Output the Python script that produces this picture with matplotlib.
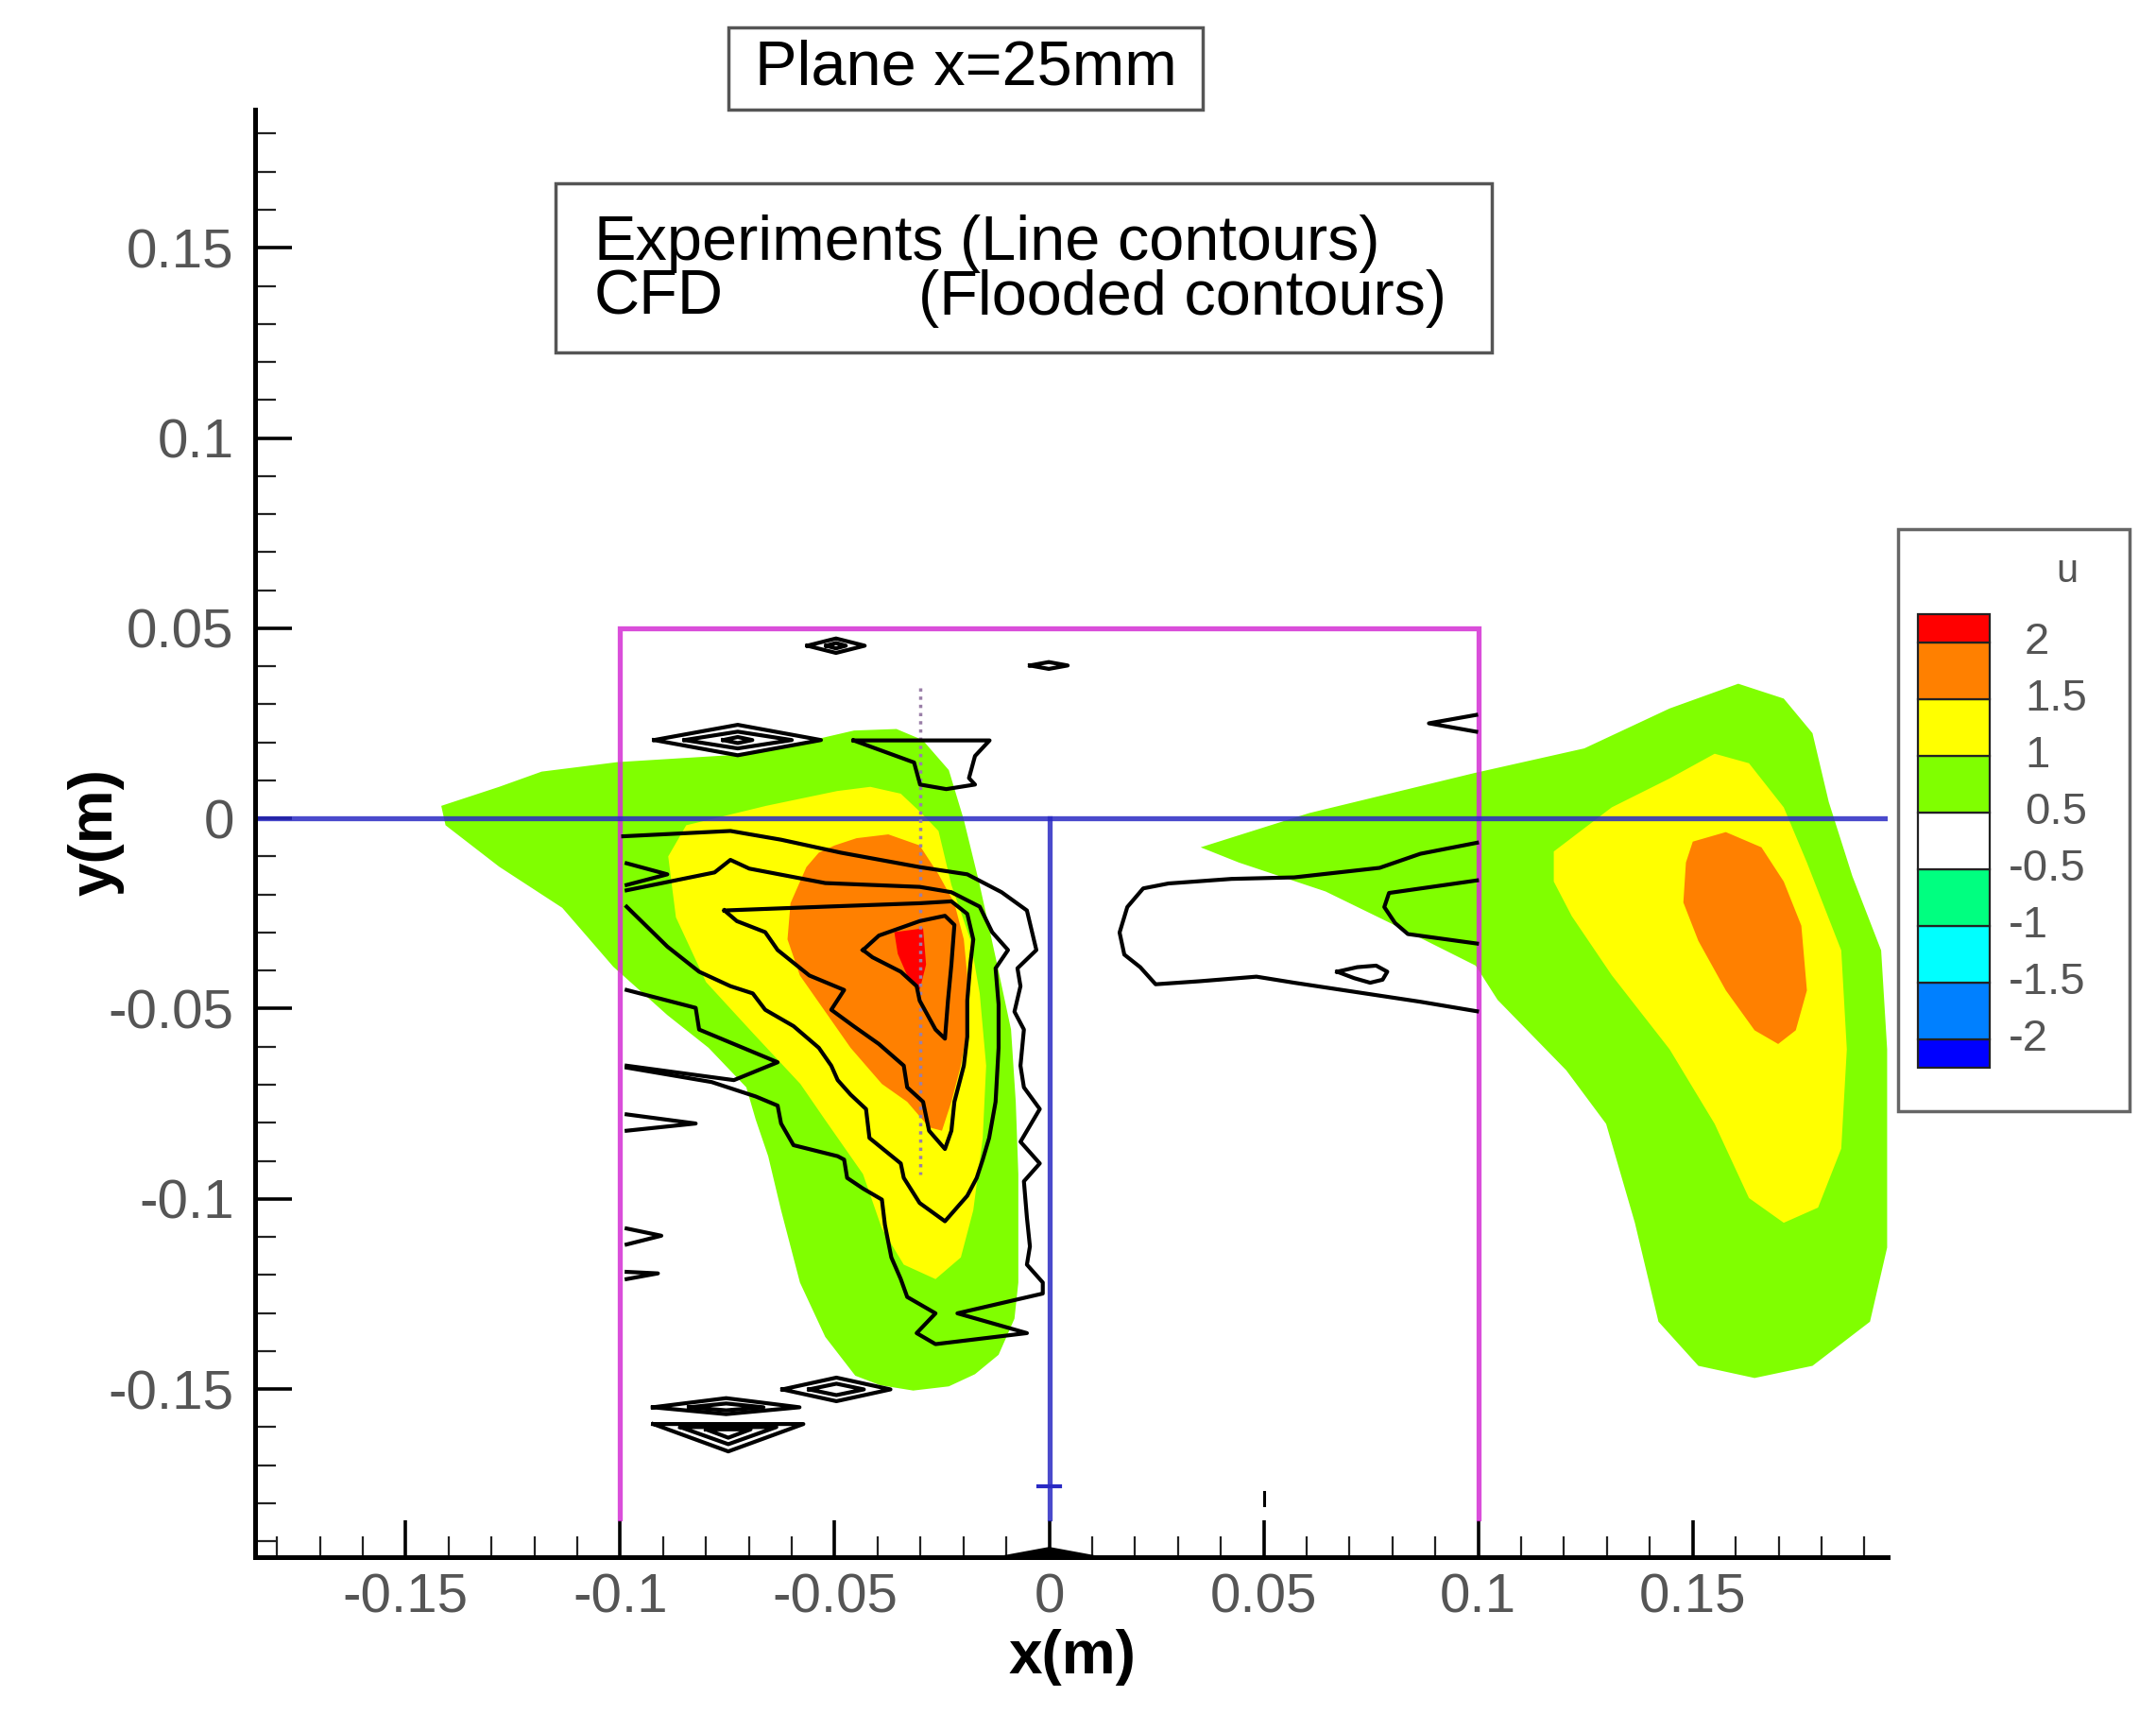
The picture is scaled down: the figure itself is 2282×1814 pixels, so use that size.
import matplotlib
matplotlib.use("Agg")
import matplotlib.pyplot as plt
from matplotlib.patches import Rectangle
from matplotlib.ticker import MultipleLocator

plt.rcParams['font.family'] = ['Liberation Sans', 'DejaVu Sans']

# ---------------- data ----------------
x_ticks = [-0.15, -0.1, -0.05, 0, 0.05, 0.1, 0.15]
x_tick_labels = ['-0.15', '-0.1', '-0.05', '0', '0.05', '0.1', '0.15']
y_ticks = [-0.15, -0.1, -0.05, 0, 0.05, 0.1, 0.15]
y_tick_labels = ['-0.15', '-0.1', '-0.05', '0', '0.05', '0.1', '0.15']

# colour levels of u (bottom to top)
cb_levels = [-2, -1.5, -1, -0.5, 0.5, 1, 1.5, 2]
cb_colors = ['#0000FF', '#0080FF', '#00FFFF', '#00FF80', '#FFFFFF',
             '#80FF00', '#FFFF00', '#FF8000', '#FF0000']

# CFD flooded contours (boundaries of u > 0.5, 1, 1.5, 2)
cfd_left_green = [(-0.1417, 0.0033), (-0.1282, 0.0083), (-0.1183, 0.0123), (-0.1006, 0.0148),
                  (-0.0689, 0.0170), (-0.0455, 0.0231), (-0.0356, 0.0235), (-0.0295, 0.0206),
                  (-0.0234, 0.0127), (-0.0199, -0.0004), (-0.0162, -0.0175), (-0.0125, -0.0365),
                  (-0.0089, -0.0555), (-0.0078, -0.0745), (-0.0072, -0.0935), (-0.0072, -0.1220),
                  (-0.0081, -0.1315), (-0.0118, -0.1410), (-0.0173, -0.1461), (-0.0234, -0.1493),
                  (-0.0317, -0.1504), (-0.0394, -0.1490), (-0.0452, -0.1465), (-0.0522, -0.1363),
                  (-0.0581, -0.1220), (-0.0625, -0.1030), (-0.0655, -0.0888), (-0.0684, -0.0792),
                  (-0.0706, -0.0707), (-0.0794, -0.0603), (-0.0890, -0.0517), (-0.1016, -0.0390),
                  (-0.1135, -0.0235), (-0.1282, -0.0127), (-0.1407, -0.0018)]
cfd_left_yellow = [(-0.0846, -0.0018), (-0.0660, 0.0033), (-0.0494, 0.0072), (-0.0417, 0.0083),
                   (-0.0346, 0.0065), (-0.0298, 0.0014), (-0.0258, -0.0033), (-0.0228, -0.0175),
                   (-0.0184, -0.0318), (-0.0162, -0.0460), (-0.0147, -0.0650), (-0.0155, -0.0840),
                   (-0.0177, -0.1030), (-0.0206, -0.1154), (-0.0265, -0.1211), (-0.0339, -0.1173),
                   (-0.0390, -0.1078), (-0.0434, -0.0935), (-0.0522, -0.0793), (-0.0580, -0.0698),
                   (-0.0690, -0.0565), (-0.0800, -0.0430), (-0.0870, -0.0260), (-0.0888, -0.0100)]
cfd_left_orange = [(-0.0500, -0.0071), (-0.0449, -0.0052), (-0.0375, -0.0042), (-0.0302, -0.0071),
                   (-0.0258, -0.0147), (-0.0221, -0.0223), (-0.0199, -0.0318), (-0.0191, -0.0413),
                   (-0.0191, -0.0555), (-0.0206, -0.0650), (-0.0228, -0.0745), (-0.0250, -0.0821),
                   (-0.0280, -0.0812), (-0.0331, -0.0745), (-0.0390, -0.0698), (-0.0463, -0.0603),
                   (-0.0522, -0.0508), (-0.0581, -0.0413), (-0.0610, -0.0318), (-0.0603, -0.0223),
                   (-0.0566, -0.0128), (-0.0537, -0.0090)]
cfd_left_red = [(-0.0361, -0.0299), (-0.0294, -0.0289), (-0.0287, -0.0384), (-0.0302, -0.0451),
                (-0.0331, -0.0413), (-0.0353, -0.0356)]
cfd_right_green = [(0.0353, -0.0076), (0.0606, 0.0014), (0.0990, 0.0119), (0.1247, 0.0184),
                   (0.1446, 0.0289), (0.1606, 0.0354), (0.1712, 0.0315), (0.1779, 0.0224),
                   (0.1817, 0.0043), (0.1872, -0.0152), (0.1939, -0.0347), (0.1953, -0.0607),
                   (0.1953, -0.1128), (0.1913, -0.1323), (0.1779, -0.1439), (0.1644, -0.1471),
                   (0.1513, -0.1439), (0.1420, -0.1323), (0.1365, -0.1063), (0.1298, -0.0803),
                   (0.1205, -0.0662), (0.1045, -0.0477), (0.0994, -0.0387), (0.0833, -0.0296),
                   (0.0644, -0.0192), (0.0442, -0.0116)]
cfd_right_yellow = [(0.1176, -0.0087), (0.1311, 0.0029), (0.1446, 0.0105), (0.1551, 0.0170),
                    (0.1631, 0.0145), (0.1712, 0.0029), (0.1766, -0.0116), (0.1846, -0.0347),
                    (0.1859, -0.0607), (0.1846, -0.0868), (0.1792, -0.1023), (0.1712, -0.1063),
                    (0.1631, -0.0998), (0.1551, -0.0803), (0.1446, -0.0607), (0.1311, -0.0412),
                    (0.1218, -0.0257), (0.1176, -0.0166)]
cfd_right_orange = [(0.1500, -0.0061), (0.1577, -0.0036), (0.1660, -0.0076), (0.1712, -0.0166),
                    (0.1753, -0.0282), (0.1766, -0.0452), (0.1740, -0.0557), (0.1699, -0.0593),
                    (0.1644, -0.0557), (0.1577, -0.0452), (0.1513, -0.0322), (0.1478, -0.0221),
                    (0.1484, -0.0116)]

# Experimental line contours (open lines end on the measurement window)
exp_a = [(-0.0993, -0.0047), (-0.0743, -0.0033), (-0.0625, -0.0056), (-0.0486, -0.0090),
         (-0.0302, -0.0128), (-0.0191, -0.0147), (-0.0111, -0.0194), (-0.0052, -0.0242),
         (-0.0030, -0.0346), (-0.0074, -0.0394), (-0.0067, -0.0441), (-0.0081, -0.0508),
         (-0.0059, -0.0555), (-0.0067, -0.0650), (-0.0059, -0.0707), (-0.0022, -0.0764),
         (-0.0067, -0.0850), (-0.0022, -0.0907), (-0.0059, -0.0954), (-0.0052, -0.1049),
         (-0.0045, -0.1125), (-0.0052, -0.1173), (-0.0015, -0.1220), (-0.0015, -0.1249),
         (-0.0214, -0.1301), (-0.0052, -0.1353), (-0.0265, -0.1382), (-0.0309, -0.1353),
         (-0.0265, -0.1301), (-0.0331, -0.1258), (-0.0346, -0.1211), (-0.0368, -0.1154),
         (-0.0383, -0.1068), (-0.0390, -0.1002), (-0.0434, -0.0973), (-0.0471, -0.0945),
         (-0.0478, -0.0897), (-0.0493, -0.0888), (-0.0596, -0.0859), (-0.0625, -0.0802),
         (-0.0633, -0.0755), (-0.0684, -0.0731), (-0.0787, -0.0693), (-0.0985, -0.0655)]
exp_a2 = [(-0.0985, -0.0451), (-0.0824, -0.0498), (-0.0816, -0.0555), (-0.0633, -0.0641),
          (-0.0735, -0.0688), (-0.0985, -0.0650)]
exp_b = [(-0.0985, -0.0189), (-0.0780, -0.0142), (-0.0743, -0.0109), (-0.0699, -0.0132),
         (-0.0522, -0.0170), (-0.0302, -0.0180), (-0.0228, -0.0194), (-0.0162, -0.0232),
         (-0.0133, -0.0299), (-0.0096, -0.0346), (-0.0125, -0.0394), (-0.0118, -0.0489),
         (-0.0118, -0.0603), (-0.0125, -0.0745), (-0.0140, -0.0840), (-0.0155, -0.0897),
         (-0.0169, -0.0945), (-0.0191, -0.0992), (-0.0243, -0.1059), (-0.0302, -0.1011),
         (-0.0339, -0.0945), (-0.0346, -0.0907), (-0.0419, -0.0840), (-0.0427, -0.0764),
         (-0.0463, -0.0726), (-0.0493, -0.0688), (-0.0508, -0.0650), (-0.0537, -0.0603),
         (-0.0596, -0.0546), (-0.0662, -0.0503), (-0.0691, -0.0460), (-0.0743, -0.0441),
         (-0.0816, -0.0403), (-0.0890, -0.0337), (-0.0985, -0.0232)]
exp_c = [(-0.0757, -0.0242), (-0.0522, -0.0232), (-0.0302, -0.0223), (-0.0228, -0.0218),
         (-0.0191, -0.0251), (-0.0177, -0.0318), (-0.0184, -0.0384), (-0.0191, -0.0479),
         (-0.0191, -0.0574), (-0.0199, -0.0650), (-0.0221, -0.0745), (-0.0228, -0.0821),
         (-0.0243, -0.0869), (-0.0280, -0.0821), (-0.0294, -0.0745), (-0.0331, -0.0707),
         (-0.0339, -0.0650), (-0.0397, -0.0593), (-0.0456, -0.0546), (-0.0508, -0.0503),
         (-0.0478, -0.0451), (-0.0559, -0.0413), (-0.0633, -0.0346), (-0.0662, -0.0299),
         (-0.0728, -0.0270)]
exp_d = [(-0.0434, -0.0346), (-0.0397, -0.0308), (-0.0302, -0.0270), (-0.0243, -0.0256),
         (-0.0221, -0.0280), (-0.0228, -0.0384), (-0.0236, -0.0479), (-0.0243, -0.0579),
         (-0.0265, -0.0555), (-0.0302, -0.0479), (-0.0309, -0.0441), (-0.0346, -0.0403),
         (-0.0412, -0.0365)]
exp_spike1 = [(-0.0985, -0.0118), (-0.0890, -0.0147), (-0.0985, -0.0175)]
exp_spike2 = [(-0.0985, -0.0778), (-0.0824, -0.0802), (-0.0985, -0.0821)]
exp_spike3 = [(-0.0985, -0.1078), (-0.0904, -0.1097), (-0.0985, -0.1120)]
exp_spike4 = [(-0.0985, -0.1192), (-0.0912, -0.1196), (-0.0985, -0.1211)]
exp_spike5 = [(0.0995, 0.0272), (0.0885, 0.0250), (0.0995, 0.0228)]
exp_trap = [(-0.0456, 0.0205), (-0.0139, 0.0205), (-0.0173, 0.0164), (-0.0187, 0.0106),
            (-0.0173, 0.0089), (-0.0240, 0.0077), (-0.0301, 0.0089), (-0.0315, 0.0147)]
exp_r1 = [(0.0997, -0.0064), (0.0865, -0.0093), (0.0770, -0.0130), (0.0571, -0.0155),
          (0.0425, -0.0159), (0.0278, -0.0171), (0.0219, -0.0184), (0.0182, -0.0233),
          (0.0164, -0.0300), (0.0175, -0.0358), (0.0212, -0.0391), (0.0248, -0.0436),
          (0.0351, -0.0428), (0.0483, -0.0416), (0.0571, -0.0432), (0.0718, -0.0457),
          (0.0865, -0.0482), (0.0997, -0.0507)]
exp_r2 = [(0.0997, -0.0163), (0.0792, -0.0196), (0.0781, -0.0233), (0.0806, -0.0275),
          (0.0836, -0.0304), (0.0997, -0.0329)]
exp_r3 = [(0.0671, -0.0403), (0.0718, -0.0391), (0.0762, -0.0387), (0.0788, -0.0403),
          (0.0777, -0.0424), (0.0748, -0.0432), (0.0711, -0.0420)]
exp_dia_top1 = [(-0.0564, 0.0454), (-0.0497, 0.0473), (-0.0430, 0.0454), (-0.0497, 0.0435)]
exp_dia_top1i = [(-0.0520, 0.0454), (-0.0497, 0.0461), (-0.0474, 0.0454), (-0.0497, 0.0447)]
exp_dia_top2 = [(-0.0045, 0.0402), (-0.0001, 0.0411), (0.0043, 0.0402), (-0.0001, 0.0393)]
exp_dia_big = [(-0.0921, 0.0206), (-0.0726, 0.0246), (-0.0532, 0.0206), (-0.0726, 0.0166)]
exp_dia_bigm = [(-0.0850, 0.0206), (-0.0726, 0.0228), (-0.0600, 0.0206), (-0.0726, 0.0184)]
exp_dia_bigi = [(-0.0760, 0.0206), (-0.0726, 0.0214), (-0.0692, 0.0206), (-0.0726, 0.0198)]
exp_dia_br = [(-0.0622, -0.1501), (-0.0496, -0.1470), (-0.0370, -0.1501), (-0.0496, -0.1532)]
exp_dia_bri = [(-0.0560, -0.1501), (-0.0496, -0.1486), (-0.0432, -0.1501), (-0.0496, -0.1516)]
exp_dia_bl = [(-0.0924, -0.1548), (-0.0753, -0.1524), (-0.0582, -0.1548), (-0.0753, -0.1566)]
exp_dia_bli = [(-0.0840, -0.1548), (-0.0753, -0.1538), (-0.0666, -0.1548), (-0.0753, -0.1556)]
exp_tri_bl = [(-0.0923, -0.1592), (-0.0573, -0.1592), (-0.0748, -0.1664)]
exp_tri_blm = [(-0.0860, -0.1600), (-0.0636, -0.1600), (-0.0748, -0.1645)]
exp_tri_bli = [(-0.0800, -0.1606), (-0.0696, -0.1606), (-0.0748, -0.1628)]

# reference geometry lines
window_x = [-0.1, -0.1, 0.1, 0.1]
window_y = [-0.184, 0.05, 0.05, -0.184]
axis_h_x = [-0.1851, 0.1954]
axis_h_y = [0, 0]
axis_v_x = [0, 0]
axis_v_y = [0, -0.184]
probe_x = [-0.0301, -0.0301]
probe_y = [0.0342, -0.0935]

# ---------------- figure ----------------
fig = plt.figure(figsize=(22.82, 18.14), dpi=100)
ax = fig.add_axes([0.1183, 0.0915, 0.7572, 0.8445])
ax.set_xlim(-0.1851, 0.1954)
ax.set_ylim(-0.1942, 0.1863)

floods = [(cfd_left_green, cb_colors[5]), (cfd_right_green, cb_colors[5]),
          (cfd_left_yellow, cb_colors[6]), (cfd_right_yellow, cb_colors[6]),
          (cfd_left_orange, cb_colors[7]), (cfd_right_orange, cb_colors[7]),
          (cfd_left_red, cb_colors[8])]
for poly, col in floods:
    xs, ys = zip(*poly)
    ax.fill(xs, ys, color=col, lw=0, zorder=1)

ax.plot(window_x, window_y, color='#D42FD4', lw=3.8, alpha=0.85, zorder=2,
        solid_joinstyle='miter')
ax.plot(axis_h_x, axis_h_y, color='#2A2AC4', lw=3.8, alpha=0.85, zorder=2)
ax.plot(axis_v_x, axis_v_y, color='#2A2AC4', lw=3.8, alpha=0.85, zorder=2)
ax.plot(probe_x, probe_y, color='#9A7FA8', lw=2.5, ls=(0, (1, 1.5)), zorder=3)

open_lines = [exp_a, exp_a2, exp_b, exp_spike1, exp_spike2, exp_spike3, exp_spike4,
              exp_spike5, exp_r1, exp_r2]
closed_lines = [exp_c, exp_d, exp_trap, exp_r3, exp_dia_top1, exp_dia_top1i, exp_dia_top2,
                exp_dia_big, exp_dia_bigm, exp_dia_bigi, exp_dia_br, exp_dia_bri,
                exp_dia_bl, exp_dia_bli, exp_tri_bl, exp_tri_blm, exp_tri_bli]
for line in open_lines:
    xs, ys = zip(*line)
    ax.plot(xs, ys, color='black', lw=3.0, zorder=4)
for line in closed_lines:
    xs, ys = zip(*(line + line[:1]))
    ax.plot(xs, ys, color='black', lw=3.0, zorder=4)

# small marks near the bottom axis
ax.plot([-0.0025, 0.0025], [-0.1755, -0.1755], color='#2A2AC4', lw=3, zorder=3)
ax.plot([0.05, 0.05], [-0.177, -0.1805], color='black', lw=2.2, zorder=3)
ax.fill([-0.013, 0, 0.013], [-0.1942, -0.1915, -0.1942], color='black', lw=0, zorder=3)

# axes styling
for s in ['top', 'right']:
    ax.spines[s].set_visible(False)
for s in ['left', 'bottom']:
    ax.spines[s].set_linewidth(3.6)
ax.set_xticks(x_ticks)
ax.set_xticklabels(x_tick_labels)
ax.set_yticks(y_ticks)
ax.set_yticklabels(y_tick_labels)
ax.xaxis.set_minor_locator(MultipleLocator(0.01))
ax.yaxis.set_minor_locator(MultipleLocator(0.01))
ax.tick_params(which='major', direction='in', length=28, width=2.6, labelsize=42,
               labelcolor='#555555', color='black')
ax.tick_params(which='minor', direction='in', length=16, width=1.6, color='#222222')
ax.tick_params(axis='y', pad=16)
ax.tick_params(axis='x', pad=12)

xl = ax.set_xlabel('x(m)', fontsize=46, fontweight='bold')
xl.set_va('center')
ax.xaxis.set_label_coords(0.5006, -0.069)
yl = ax.set_ylabel('y(m)', fontsize=46, fontweight='bold')
yl.set_va('center')
ax.yaxis.set_label_coords(-0.0972, 0.501)

# title box
fig.patches.append(Rectangle((0.3379, 0.9361), 0.22, 0.048, transform=fig.transFigure,
                             fill=False, ec='#555555', lw=2.5))
fig.text(0.4478, 0.9598, 'Plane x=25mm', fontsize=48, ha='center', va='center', color='black')

# legend box
fig.patches.append(Rectangle((0.2577, 0.7944), 0.4343, 0.0987, transform=fig.transFigure,
                             fill=False, ec='#555555', lw=2.5))
fig.text(0.2756, 0.8580, 'Experiments', fontsize=48, ha='left', va='center')
fig.text(0.4452, 0.8580, '(Line contours)', fontsize=48, ha='left', va='center')
fig.text(0.2756, 0.8260, 'CFD', fontsize=48, ha='left', va='center')
fig.text(0.4259, 0.8260, '(Flooded contours)', fontsize=48, ha='left', va='center')

# colour legend
fig.patches.append(Rectangle((0.8804, 0.3517), 0.1074, 0.3396, transform=fig.transFigure,
                             fill=False, ec='#666666', lw=2.5))
cax = fig.add_axes([0.8896, 0.3771, 0.0333, 0.2646])
cax.set_xlim(0, 1)
cax.set_ylim(0.5, 8.5)
cax.axis('off')
n = len(cb_colors)
for i, col in enumerate(cb_colors):
    b = 0.5 if i == 0 else i
    t = n - 0.5 if i == n - 1 else i + 1
    cax.bar(0.5, t - b, bottom=b, width=1, color=col, edgecolor='#222222',
            linewidth=1.6, clip_on=False)
for k, lev in enumerate(cb_levels, start=1):
    cax.text(1.487 if lev >= 0 else 1.263, k, f'{lev:g}', fontsize=34, color='#555555',
             ha='left', va='center', clip_on=False)
cax.text(2.08, 9.25, 'u', fontsize=30, color='#555555', ha='center', va='center',
         clip_on=False)

fig.savefig('out.png', dpi=100)
